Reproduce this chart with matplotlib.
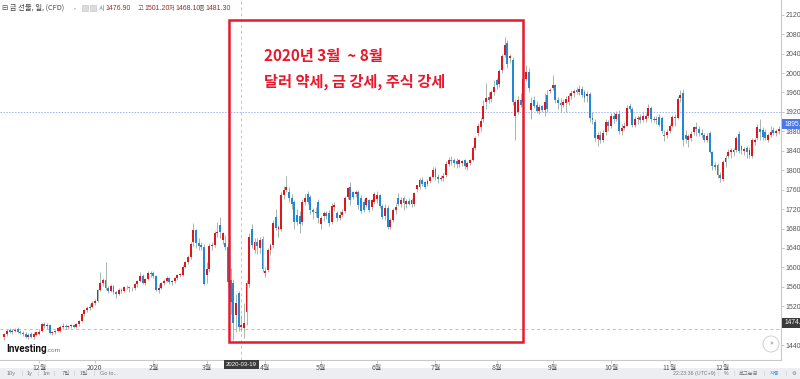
import numpy as np
import pandas as pd
import matplotlib
matplotlib.use('Agg')
import matplotlib.pyplot as plt
from matplotlib.patches import Rectangle, Ellipse
from matplotlib.transforms import blended_transform_factory

plt.rcParams['font.family'] = ['Noto Sans CJK KR', 'DejaVu Sans']

# trading days shown on the chart (gold futures, daily)
holidays = ['2019-11-28', '2019-12-25', '2020-01-01', '2020-04-10', '2020-11-26', '2020-12-25']
dates = pd.bdate_range('2019-11-12', '2020-12-31', freq='C', holidays=holidays)

# OHLC, one line per month (Nov 2019 .. Dec 2020)
opens = [
    1456, 1462, 1471, 1467, 1470, 1473, 1466, 1464, 1462, 1456, 1462, 1456, 1461,
    1463, 1469, 1483, 1479, 1482, 1465, 1467, 1469, 1470, 1478, 1480, 1477, 1479, 1481, 1478, 1483, 1490, 1504, 1513, 1517, 1519,
    1526, 1530, 1553, 1568, 1575, 1557, 1552, 1562, 1549, 1546, 1554, 1552, 1560, 1559, 1558, 1557, 1565, 1572, 1583, 1568, 1576, 1588,
    1588, 1582, 1553, 1557, 1567, 1573, 1579, 1569, 1571, 1578, 1584, 1585, 1601, 1611, 1621, 1652, 1676, 1650, 1646, 1642,
    1585, 1596, 1644, 1646, 1670, 1687, 1656, 1650, 1642, 1574, 1568, 1503, 1547, 1476.9, 1476, 1508, 1565, 1679, 1636, 1652, 1640, 1658,
    1588, 1595, 1636, 1646, 1703, 1680, 1680, 1750, 1760, 1755, 1742, 1735, 1707, 1706, 1693, 1735, 1752, 1745, 1718, 1715, 1735,
    1690, 1705, 1711, 1712, 1693, 1724, 1711, 1701, 1708, 1716, 1744, 1765, 1755, 1752, 1755, 1742, 1735, 1728, 1738, 1725, 1735,
    1740, 1750, 1726, 1706, 1722, 1684, 1698, 1718, 1742, 1731, 1742, 1731, 1737, 1731, 1730, 1762, 1766, 1780, 1775, 1771, 1778, 1786,
    1802, 1786, 1782, 1784, 1790, 1812, 1822, 1820, 1818, 1812, 1814, 1820, 1806, 1815, 1822, 1846, 1876, 1888, 1905, 1940, 1950, 1946, 1960,
    1985, 1978, 2006, 2038, 2062, 2030, 2027, 1912, 1920, 1945, 1940, 1988, 2002, 1924, 1945, 1935, 1922, 1932, 1924, 1955, 1964,
    1970, 1975, 1944, 1938, 1934, 1938, 1940, 1952, 1958, 1966, 1960, 1968, 1960, 1952, 1956, 1908, 1900, 1864, 1872, 1862, 1878, 1900,
    1892, 1912, 1906, 1916, 1880, 1886, 1892, 1932, 1926, 1894, 1906, 1910, 1904, 1906, 1912, 1928, 1906, 1904, 1910, 1908, 1872, 1872,
    1880, 1892, 1910, 1908, 1948, 1958, 1872, 1862, 1866, 1878, 1888, 1885, 1876, 1872, 1862, 1876, 1838, 1810, 1810, 1790,
    1782, 1816, 1830, 1838, 1838, 1842, 1875, 1849, 1840, 1845, 1831, 1830, 1859, 1866, 1884, 1883, 1879, 1862, 1872, 1883, 1876, 1880,
]
highs = [
    1464, 1474, 1476, 1474, 1476, 1478, 1472, 1470, 1466, 1464, 1468, 1466, 1470,
    1474, 1486, 1488, 1486, 1484, 1470, 1472, 1478, 1482, 1486, 1484, 1482, 1484, 1484, 1486, 1492, 1506, 1515, 1521, 1524, 1531,
    1534, 1556, 1591, 1578, 1611, 1562, 1566, 1564, 1552, 1558, 1558, 1562, 1564, 1562, 1560, 1568, 1574, 1590, 1586, 1578, 1592, 1593,
    1592, 1584, 1566, 1570, 1576, 1582, 1581, 1574, 1580, 1587, 1588, 1604, 1614, 1626, 1652, 1691, 1679, 1660, 1652, 1649,
    1612, 1650, 1653, 1674, 1693, 1704, 1672, 1666, 1650, 1598, 1576, 1545, 1552, 1501.2, 1527, 1575, 1670, 1690, 1660, 1660, 1662, 1664,
    1600, 1640, 1650, 1697, 1720, 1688, 1756, 1768, 1788, 1766, 1752, 1738, 1720, 1716, 1740, 1752, 1758, 1750, 1722, 1725, 1740,
    1706, 1716, 1716, 1718, 1732, 1735, 1716, 1716, 1720, 1746, 1766, 1775, 1758, 1760, 1760, 1748, 1740, 1745, 1740, 1740, 1755,
    1758, 1752, 1730, 1730, 1728, 1702, 1722, 1732, 1753, 1745, 1746, 1740, 1742, 1742, 1756, 1770, 1783, 1785, 1778, 1782, 1788, 1806,
    1806, 1792, 1790, 1795, 1818, 1828, 1830, 1826, 1825, 1824, 1822, 1824, 1818, 1824, 1850, 1870, 1898, 1910, 1944, 1980, 1960, 1966, 1985,
    1990, 2008, 2040, 2074, 2068, 2040, 2032, 1946, 1952, 1958, 1992, 2016, 2010, 1950, 1952, 1942, 1936, 1935, 1958, 1965, 1970,
    1995, 1978, 1950, 1948, 1946, 1952, 1958, 1966, 1968, 1972, 1976, 1974, 1966, 1962, 1960, 1920, 1905, 1878, 1880, 1882, 1905, 1904,
    1918, 1920, 1922, 1924, 1895, 1900, 1935, 1938, 1930, 1912, 1914, 1916, 1920, 1918, 1936, 1932, 1912, 1912, 1916, 1912, 1882, 1885,
    1896, 1914, 1916, 1952, 1965, 1968, 1882, 1874, 1880, 1892, 1900, 1892, 1885, 1876, 1876, 1880, 1840, 1816, 1814, 1796,
    1822, 1832, 1844, 1846, 1846, 1870, 1880, 1852, 1848, 1850, 1848, 1866, 1866, 1896, 1906, 1888, 1884, 1876, 1890, 1888, 1884, 1890,
]
lows = [
    1450, 1458, 1465, 1462, 1466, 1464, 1462, 1458, 1454, 1452, 1454, 1453, 1458,
    1460, 1466, 1476, 1474, 1462, 1460, 1463, 1466, 1467, 1473, 1474, 1474, 1475, 1476, 1476, 1480, 1488, 1500, 1508, 1512, 1516,
    1522, 1528, 1552, 1562, 1553, 1548, 1549, 1546, 1536, 1544, 1548, 1550, 1556, 1550, 1552, 1554, 1560, 1570, 1565, 1564, 1574, 1580,
    1578, 1551, 1548, 1555, 1563, 1570, 1566, 1564, 1568, 1575, 1581, 1583, 1598, 1608, 1618, 1645, 1640, 1636, 1636, 1563,
    1567, 1590, 1636, 1642, 1662, 1660, 1648, 1636, 1560, 1505, 1451, 1466, 1470, 1468.1, 1455, 1482, 1560, 1640, 1630, 1628, 1630, 1590,
    1580, 1590, 1626, 1640, 1676, 1662, 1675, 1740, 1756, 1735, 1720, 1680, 1688, 1670, 1688, 1728, 1730, 1710, 1700, 1704, 1692,
    1680, 1696, 1700, 1686, 1690, 1716, 1695, 1698, 1704, 1712, 1740, 1728, 1740, 1745, 1720, 1712, 1715, 1724, 1715, 1718, 1730,
    1732, 1722, 1700, 1698, 1678, 1678, 1694, 1710, 1726, 1725, 1718, 1722, 1728, 1724, 1726, 1756, 1762, 1768, 1762, 1768, 1774, 1784,
    1780, 1774, 1778, 1778, 1786, 1808, 1810, 1806, 1805, 1806, 1808, 1803, 1800, 1810, 1818, 1842, 1870, 1880, 1900, 1925, 1938, 1940, 1955,
    1968, 1972, 2000, 2032, 2010, 2020, 1935, 1862, 1915, 1930, 1936, 1984, 1960, 1905, 1928, 1918, 1915, 1920, 1912, 1920, 1958,
    1965, 1938, 1925, 1920, 1930, 1920, 1935, 1946, 1950, 1956, 1955, 1950, 1940, 1940, 1900, 1895, 1860, 1850, 1855, 1858, 1872, 1880,
    1886, 1898, 1902, 1875, 1872, 1882, 1890, 1920, 1888, 1888, 1896, 1898, 1900, 1900, 1908, 1900, 1900, 1896, 1890, 1876, 1860, 1866,
    1876, 1888, 1890, 1905, 1940, 1850, 1856, 1848, 1860, 1872, 1870, 1870, 1866, 1858, 1858, 1835, 1800, 1800, 1784, 1776,
    1778, 1806, 1826, 1826, 1830, 1838, 1836, 1834, 1832, 1826, 1826, 1826, 1852, 1862, 1862, 1862, 1862, 1858, 1868, 1872, 1870, 1874,
]
closes = [
    1462, 1470, 1467, 1470, 1472, 1466, 1464, 1462, 1456, 1461, 1457, 1462, 1466,
    1468, 1483, 1479, 1481, 1465, 1468, 1469, 1475, 1478, 1479, 1477, 1479, 1480, 1478, 1483, 1490, 1504, 1513, 1517, 1519, 1526,
    1530, 1553, 1568, 1574, 1558, 1552, 1562, 1549, 1546, 1554, 1552, 1560, 1559, 1558, 1557, 1565, 1571, 1583, 1568, 1576, 1588, 1586,
    1582, 1553, 1557, 1567, 1573, 1579, 1569, 1571, 1578, 1584, 1585, 1601, 1611, 1621, 1648, 1676, 1650, 1643, 1641, 1566,
    1596, 1644, 1646, 1670, 1673, 1672, 1670, 1642, 1570, 1528, 1486, 1526, 1478, 1481.3, 1486, 1568, 1662, 1646, 1652, 1643, 1656, 1596,
    1592, 1636, 1646, 1691, 1681, 1684, 1750, 1760, 1766, 1742, 1731, 1694, 1693, 1690, 1735, 1742, 1735, 1718, 1715, 1711, 1702,
    1701, 1711, 1705, 1691, 1726, 1728, 1701, 1708, 1715, 1742, 1763, 1739, 1745, 1755, 1728, 1716, 1718, 1742, 1718, 1738, 1752,
    1750, 1726, 1704, 1722, 1684, 1698, 1718, 1724, 1730, 1738, 1732, 1736, 1731, 1738, 1753, 1769, 1779, 1772, 1766, 1778, 1785, 1800,
    1786, 1782, 1784, 1788, 1812, 1822, 1818, 1814, 1812, 1820, 1818, 1808, 1815, 1820, 1846, 1866, 1892, 1902, 1932, 1949, 1944, 1960, 1971,
    1976, 2004, 2036, 2058, 2018, 2035, 1940, 1940, 1945, 1935, 1988, 2002, 1969, 1938, 1932, 1922, 1930, 1924, 1940, 1925, 1966,
    1975, 1944, 1938, 1934, 1940, 1946, 1952, 1958, 1964, 1960, 1968, 1955, 1948, 1956, 1908, 1903, 1866, 1872, 1862, 1876, 1900, 1890,
    1912, 1906, 1916, 1880, 1886, 1892, 1928, 1926, 1894, 1906, 1908, 1904, 1912, 1912, 1928, 1906, 1904, 1905, 1894, 1880, 1870, 1879,
    1892, 1910, 1908, 1946, 1955, 1862, 1864, 1870, 1874, 1888, 1885, 1876, 1872, 1862, 1870, 1838, 1808, 1806, 1790, 1784,
    1816, 1826, 1838, 1842, 1842, 1866, 1840, 1842, 1844, 1838, 1842, 1862, 1862, 1889, 1879, 1869, 1866, 1872, 1879, 1876, 1880, 1884,
]

month_names = ['12월', '2020', '2월', '3월', '4월', '5월', '6월', '7월', '8월', '9월', '10월', '11월', '12월']
price_ticks = [1440, 1480, 1520, 1560, 1600, 1640, 1680, 1720, 1760, 1800, 1840, 1880, 1920, 1960, 2000, 2040, 2080, 2120]
hidden_tick = 1480   # covered by the 1474.1 marker box
cross_date = '2020-03-19'
last_price = 1895.0
marker_price = 1474.1
blue_line_price = 1920

RED = '#e0161e'
BLUE = '#2389d6'
WICK = '#a7b5ad'
RECT = '#e8192c'
SMALL = ['Liberation Sans', 'Noto Sans CJK KR', 'DejaVu Sans']

o = np.array(opens, dtype=float)
h = np.array(highs, dtype=float)
l = np.array(lows, dtype=float)
c = np.array(closes, dtype=float)
x = np.arange(len(dates))[:len(c)]


def fx(px):
    return px / 800


def fy(py):
    return 1 - py / 379


fig = plt.figure(figsize=(8, 3.79), dpi=100)
fig.patch.set_facecolor('white')
ax = fig.add_axes([0, 19 / 379, 781 / 800, 360 / 379])

# crosshair and reference lines
cross_i = int(np.where(dates == pd.Timestamp(cross_date))[0][0])
ax.axvline(cross_i, color='#c4c4c4', lw=0.7, dashes=(3, 3), zorder=1)
ax.axhline(marker_price, color='#bdbdbd', lw=0.7, dashes=(3, 3), zorder=1)
ax.axhline(blue_line_price, color='#9db2f2', lw=0.7, dashes=(1.5, 1.5), zorder=1)

# candles
up = c >= o
ax.vlines(x, l, h, color=WICK, lw=0.7, zorder=2)
body = np.maximum(np.abs(c - o), 1.6)
ax.bar(x, body, bottom=np.minimum(o, c), width=0.72,
       color=np.where(up, RED, BLUE), linewidth=0, zorder=3)

ax.set_xlim(-1.65, 291.85)
ax.set_ylim(1409.4, 2150.3)

for s in ['top', 'left']:
    ax.spines[s].set_visible(False)
for s in ['right', 'bottom']:
    ax.spines[s].set_color('#c9c9c9')
    ax.spines[s].set_linewidth(0.8)

month = dates.month
month_starts = [i for i in range(1, len(dates)) if month[i] != month[i - 1]]
ax.set_xticks(month_starts)
ax.set_xticklabels(month_names)
ax.tick_params(axis='x', length=2, width=0.5, color='#b0b0b0', labelsize=5,
               labelcolor='#555555', pad=0.8)

ax.yaxis.tick_right()
ax.set_yticks(price_ticks)
ax.set_yticklabels(['' if v == hidden_tick else '%.1f' % v for v in price_ticks], family=SMALL)
ax.tick_params(axis='y', length=2, width=0.5, color='#b0b0b0', labelsize=5,
               labelcolor='#555555', pad=1.2)

# price labels on the right axis
ytr = blended_transform_factory(ax.transAxes, ax.transData)
ax.text(1.004, last_price, '%.1f' % last_price, transform=ytr, fontsize=4.8,
        family=SMALL, color='white', va='center', ha='left', clip_on=False, zorder=6,
        bbox=dict(boxstyle='square,pad=0.25', fc='#4a78e6', ec='none'))
ax.text(1.004, marker_price + 12, '%.1f' % marker_price, transform=ytr, fontsize=4.8,
        family=SMALL, color='white', va='center', ha='left', clip_on=False, zorder=6,
        bbox=dict(boxstyle='square,pad=0.25', fc='#3a3a3a', ec='none'))

# date label of crosshair
xtr = blended_transform_factory(ax.transData, ax.transAxes)
ax.text(cross_i, -0.0125, cross_date, transform=xtr, fontsize=4.3, color='white',
        family=SMALL, ha='center', va='center', clip_on=False, zorder=6,
        bbox=dict(boxstyle='square,pad=0.3', fc='#3c3c3c', ec='none'))

# highlight box and annotation
fig.add_artist(Rectangle((fx(229), fy(341.5)), (522.5 - 229) / 800, (341.5 - 19.5) / 379,
                         transform=fig.transFigure, fill=False, ec=RECT, lw=1.8, zorder=10))
fig.text(fx(264), fy(56), '2020년 3월  ~ 8월', color=RECT, fontsize=11, weight='bold',
         ha='left', va='center')
fig.text(fx(264), fy(82), '달러 약세, 금 강세, 주식 강세', color=RECT, fontsize=11, weight='bold',
         ha='left', va='center')

# header line
fig.text(fx(2), fy(8), '⊟ 금 선물, 일, (CFD)', fontsize=5.3, color='#444444', va='center')
fig.text(fx(74), fy(8), '•', fontsize=4, color='#9a9a9a', va='center')
for bx in (82, 90):
    fig.add_artist(Rectangle((fx(bx), fy(11)), 6 / 800, 6 / 379, transform=fig.transFigure,
                             fc='#dcdcdc', ec='#bdbdbd', lw=0.4))
header = [('시', '1476.90', 99), ('고', '1501.20', 138), ('저', '1468.10', 169), ('종', '1481.30', 199)]
for lab, val, px in header:
    fig.text(fx(px), fy(8), lab, fontsize=4.6, color='#666666', va='center')
    fig.text(fx(px + 6), fy(8), val, fontsize=5, family=SMALL, color='#9c2f2a', va='center')

# logo
fig.text(fx(6), fy(349), 'Investing', fontsize=7, weight='bold', color='#111111',
         family='Roboto', va='center')
fig.text(fx(46.5), fy(350), '.com', fontsize=4.6, color='#777777', family='Roboto', va='center')

# scroll button
fig.add_artist(Ellipse((fx(771), fy(344)), 16 / 800, 16 / 379, transform=fig.transFigure,
                       fc='white', ec='#d0d0d0', lw=0.7))
fig.text(fx(771), fy(344), '»', fontsize=5.5, color='#777777', ha='center', va='center')

# bottom toolbar
fig.add_artist(Rectangle((0, 0), 1, 11 / 379, transform=fig.transFigure,
                         fc='#eceef1', ec='none', zorder=0))
ty = fy(373.5)
for txt, px in [('10y', 7), ('1y', 27), ('1m', 43), ('7일', 62), ('1일', 80), ('Go to...', 100)]:
    fig.text(fx(px), ty, txt, fontsize=4, family=SMALL, color='#777777', va='center')
for px in (21, 37, 54, 74, 94):
    fig.text(fx(px), ty, '|', fontsize=4, family=SMALL, color='#c6c6c6', va='center')
for txt, px, col in [('22:23:36 (UTC+9)', 673, '#777777'), ('|', 718, '#c6c6c6'),
                     ('%', 724, '#777777'), ('|', 733, '#c6c6c6'),
                     ('로그눈금', 739, '#777777'), ('|', 764, '#c6c6c6'),
                     ('자동', 770, '#3d8fe0'), ('|', 785, '#c6c6c6'), ('⚙', 791, '#777777')]:
    fig.text(fx(px), ty, txt, fontsize=3.8, family=SMALL, color=col, va='center')

fig.savefig('out.png', dpi=100)
